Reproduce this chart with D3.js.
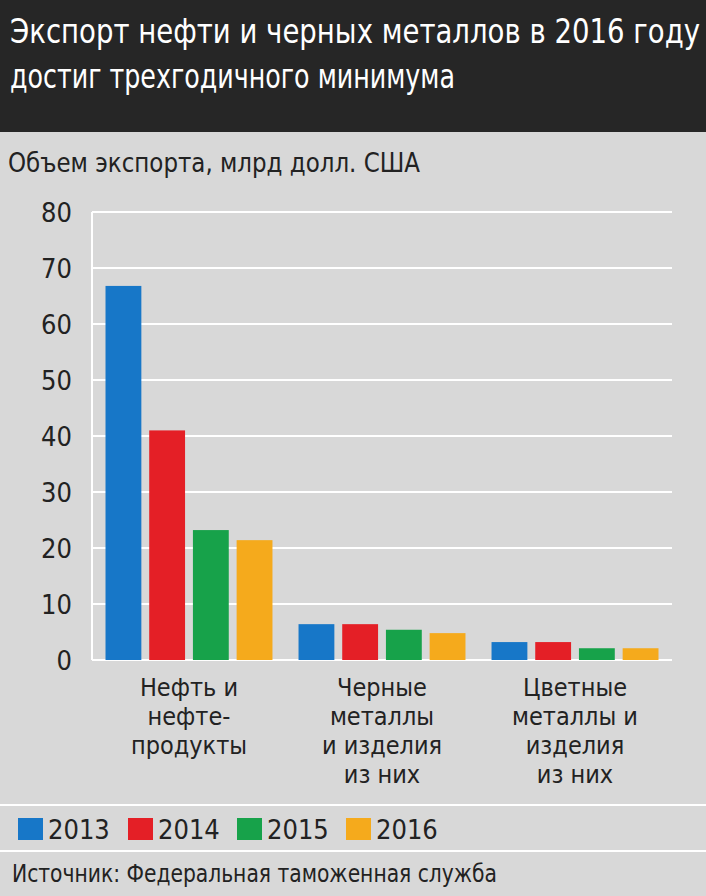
<!DOCTYPE html>
<html><head><meta charset="utf-8">
<script src="https://cdn.jsdelivr.net/npm/d3@7"></script>
<style>body{margin:0;background:#d8d8d8}svg{display:block}text{font-family:"Liberation Sans Narrow","DejaVu Sans Condensed",Roboto,sans-serif}</style>
</head><body><svg id="c" width="706" height="896"></svg>
<script>
const categories = [["Нефть и","нефте-","продукты"],["Черные","металлы","и изделия","из них"],["Цветные","металлы и","изделия","из них"]];
const years = ["2013","2014","2015","2016"];
const colors = ["#1777c8","#e41f26","#17a24a","#f5aa1c"];
const values = [[66.8,41.0,23.2,21.4],[6.4,6.4,5.4,4.8],[3.2,3.2,2.1,2.1]];
const yTicks = [0,10,20,30,40,50,60,70,80];

const svg = d3.select("#c");
svg.append("rect").attr("width",706).attr("height",896).attr("fill","#d8d8d8");
svg.append("rect").attr("width",706).attr("height",132).attr("fill","#262626");
function fit(t,w){return t.attr("textLength",w).attr("lengthAdjust","spacingAndGlyphs");}
fit(svg.append("text").attr("x",10).attr("y",43).attr("fill","#fff").attr("font-size",33).text("Экспорт нефти и черных металлов в 2016 году"),690);
fit(svg.append("text").attr("x",10).attr("y",88).attr("fill","#fff").attr("font-size",33).text("достиг трехгодичного минимума"),445);
fit(svg.append("text").attr("x",8).attr("y",172).attr("fill","#222").attr("font-size",27).text("Объем экспорта, млрд долл. США"),412);

const y = d3.scaleLinear().domain([0,80]).range([660,212]);
const x0 = d3.scaleBand().domain(d3.range(3)).range([92,672]).paddingInner(0.135).paddingOuter(0.07);
const x1 = d3.scaleBand().domain(years).range([0,x0.bandwidth()]).paddingInner(0.18);

const g = svg.append("g");
g.selectAll("line.grid").data(yTicks).join("line")
 .attr("x1",92).attr("x2",672).attr("y1",d=>y(d)).attr("y2",d=>y(d))
 .attr("stroke","#fff").attr("stroke-width",2);
g.append("line").attr("x1",92).attr("x2",92).attr("y1",212).attr("y2",660).attr("stroke","#fff").attr("stroke-width",2);
g.selectAll("text.yt").data(yTicks).join("text")
 .attr("x",72).attr("y",d=>y(d)+10).attr("text-anchor","end").attr("font-size",27).attr("fill","#222").text(d=>d);

values.forEach((vals,i)=>{
  g.selectAll(null).data(vals).join("rect")
   .attr("x",(d,j)=>x0(i)+x1(years[j])).attr("width",x1.bandwidth())
   .attr("y",d=>y(d)).attr("height",d=>y(0)-y(d)).attr("fill",(d,j)=>colors[j]);
  categories[i].forEach((line,k)=>{
    g.append("text").attr("x",x0(i)+x0.bandwidth()/2).attr("y",696+k*29).attr("text-anchor","middle")
     .attr("font-size",25).attr("fill","#222").text(line);
  });
});

svg.append("line").attr("x1",0).attr("x2",706).attr("y1",805).attr("y2",805).attr("stroke","#fff").attr("stroke-width",2);
svg.append("line").attr("x1",0).attr("x2",706).attr("y1",851).attr("y2",851).attr("stroke","#fff").attr("stroke-width",2);
const lx = [18,128,237,346];
years.forEach((yr,j)=>{
  svg.append("rect").attr("x",lx[j]).attr("y",818).attr("width",25).attr("height",22).attr("fill",colors[j]);
  svg.append("text").attr("x",lx[j]+30).attr("y",839).attr("font-size",27).attr("fill","#222").text(yr);
});
fit(svg.append("text").attr("x",12).attr("y",882).attr("font-size",25).attr("fill","#222").text("Источник: Федеральная таможенная служба"),485);
</script></body></html>
